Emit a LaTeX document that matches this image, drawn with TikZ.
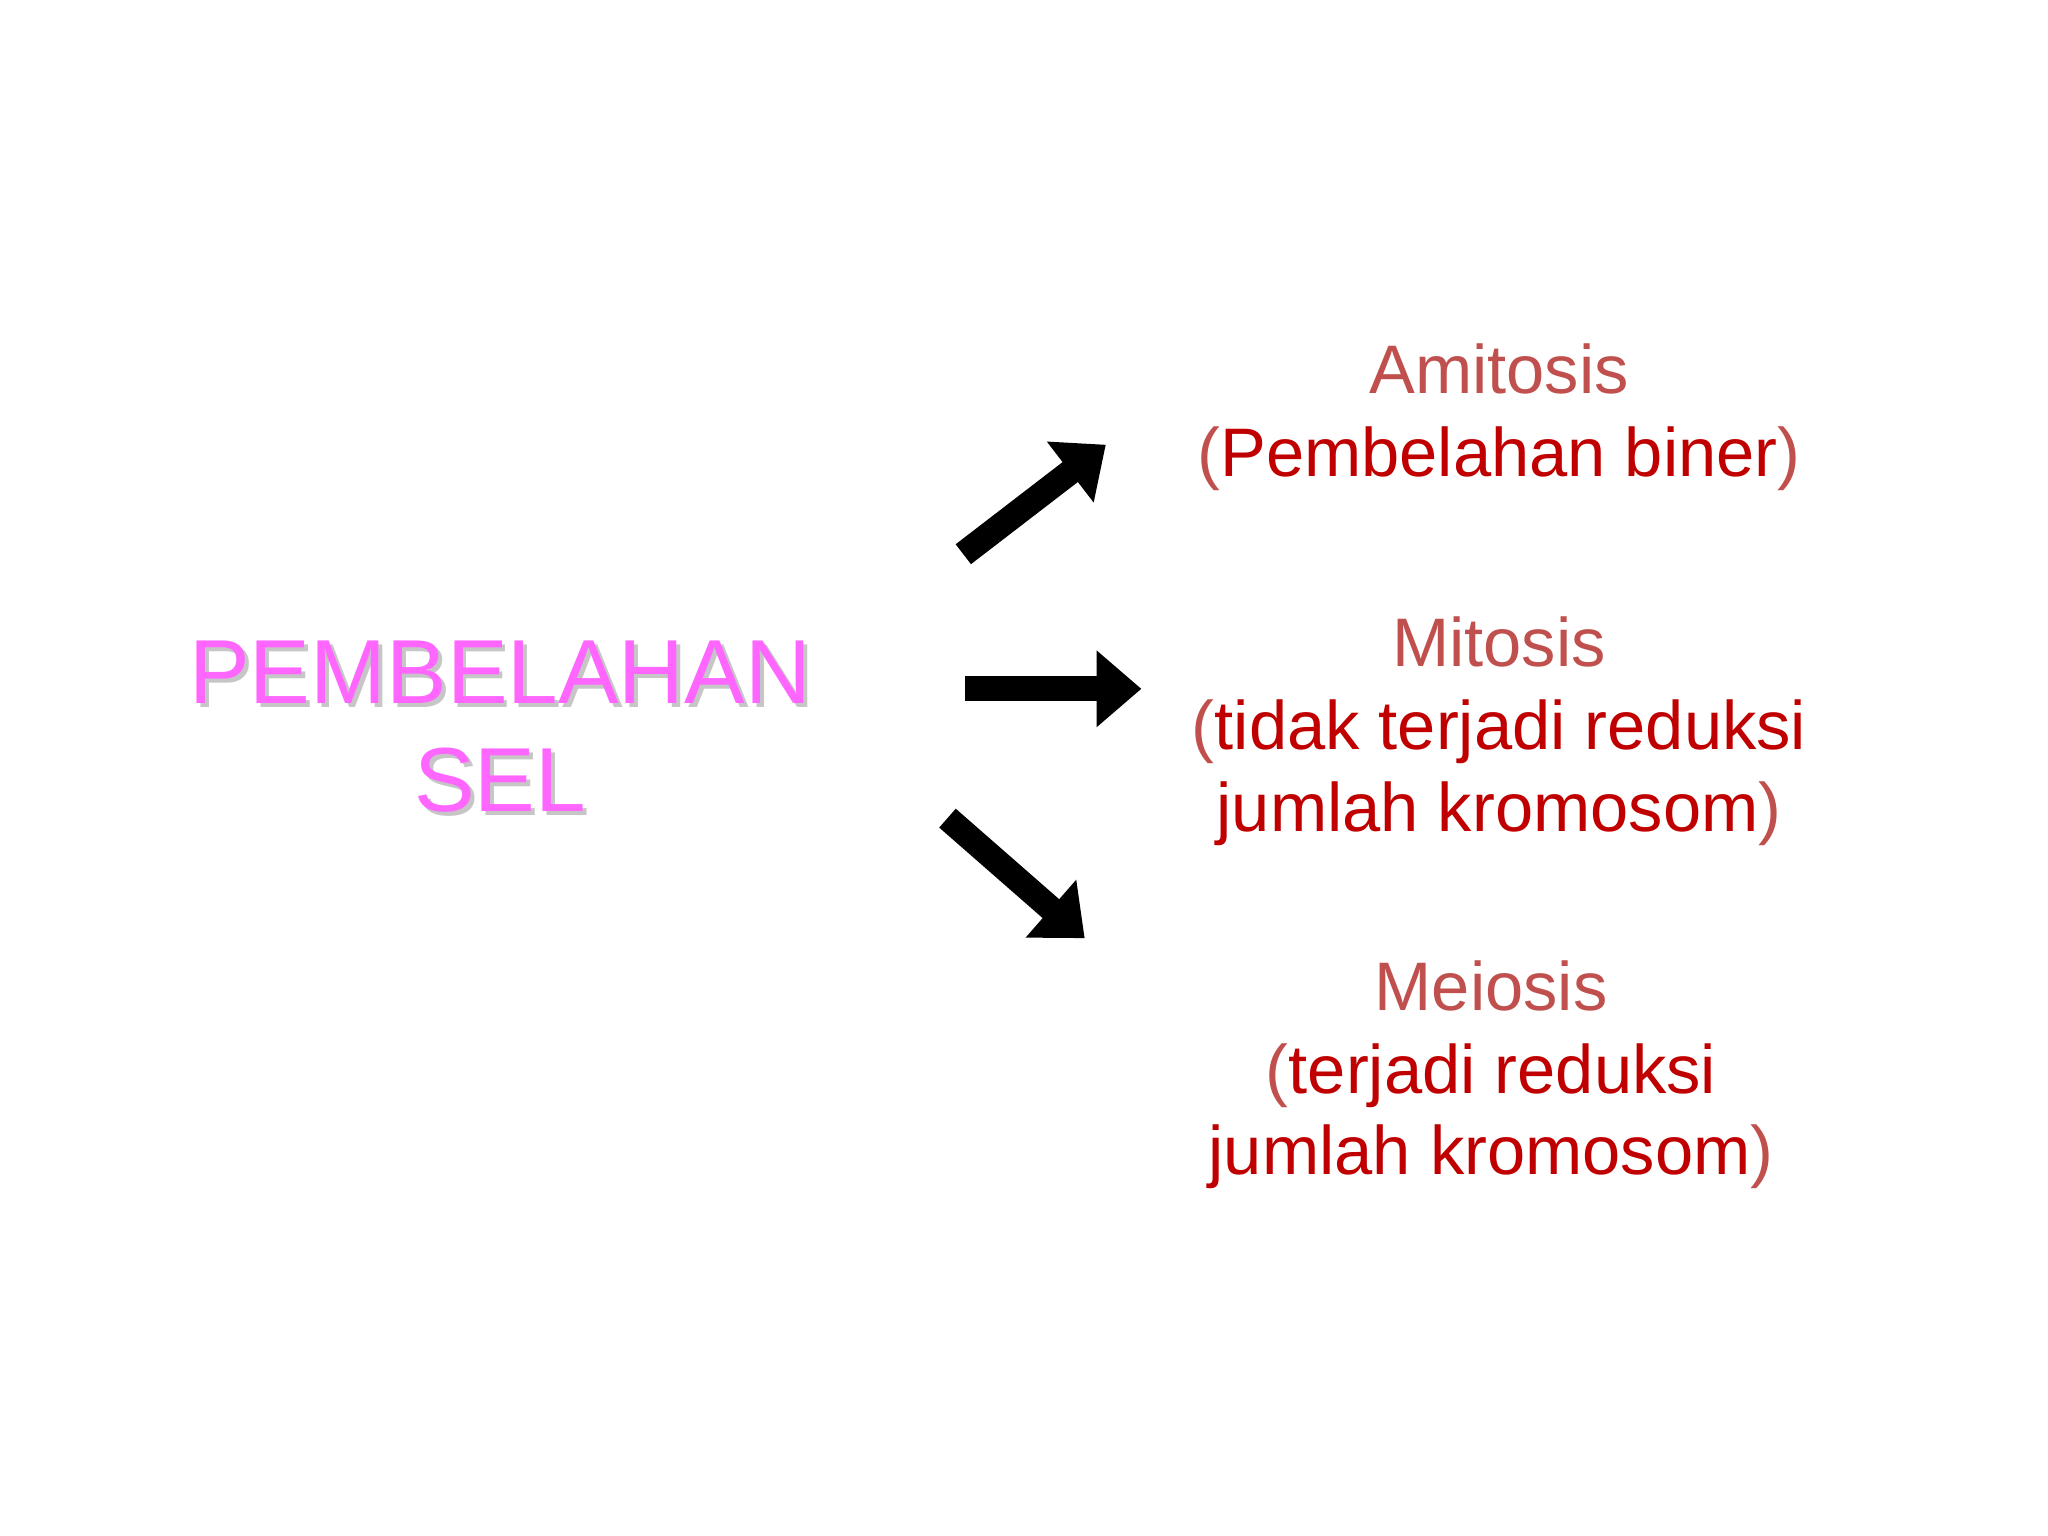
\documentclass[tikz,border=0pt]{standalone}
\usepackage{fontspec}
\setmainfont{Liberation Sans}
\usetikzlibrary{arrows.meta}
\definecolor{pinkt}{HTML}{FF66FF}
\definecolor{titr}{HTML}{C0504D}
\definecolor{darkr}{HTML}{C00000}
\tikzset{
  blk/.style={line width=0.19cm,-{Triangle[length=0.34cm,width=0.56cm]}},
  head/.style={font=\fontsize{14.8pt}{18pt}\selectfont,text=titr,anchor=base,inner sep=0pt},
  sub/.style={font=\fontsize{14.8pt}{18pt}\selectfont,text=darkr,anchor=base,inner sep=0pt},
  big/.style={font=\fontsize{19.6pt}{24pt}\selectfont,anchor=base,inner sep=0pt}
}
\newcommand{\lp}{\textcolor{titr}{(}}
\newcommand{\rp}{\textcolor{titr}{)}}
\begin{document}
\begin{tikzpicture}[x=0.01cm,y=-0.01cm]
\useasboundingbox (0,0) rectangle (1552,1164);
\node[big,text=gray!45] at (382,536) {PEMBELAHAN};
\node[big,text=gray!45] at (382,618) {SEL};
\node[big,text=pinkt] (ps1) at (379,533) {PEMBELAHAN};
\node[big,text=pinkt] (ps2) at (379,615) {SEL};
\node[head] (am) at (1136,298) {Amitosis};
\node[sub] (amx) at (1136,361) {\lp Pembelahan biner\rp};
\node[head] (mi) at (1136,505) {Mitosis};
\node[sub] (mix1) at (1136,568) {\lp tidak terjadi reduksi};
\node[sub] (mix2) at (1136,630) {jumlah kromosom\rp};
\node[head] (me) at (1130,766) {Meiosis};
\node[sub] (mex1) at (1130,829) {\lp terjadi reduksi};
\node[sub] (mex2) at (1130,890) {jumlah kromosom\rp};
\coordinate (a1) at (730,420); \coordinate (a2) at (838,337);
\coordinate (b1) at (731,522); \coordinate (b2) at (865,522);
\coordinate (c1) at (718,620); \coordinate (c2) at (822,711);
\draw[blk] (a1) -- (a2);
\draw[blk] (b1) -- (b2);
\draw[blk] (c1) -- (c2);
\end{tikzpicture}
\end{document}
